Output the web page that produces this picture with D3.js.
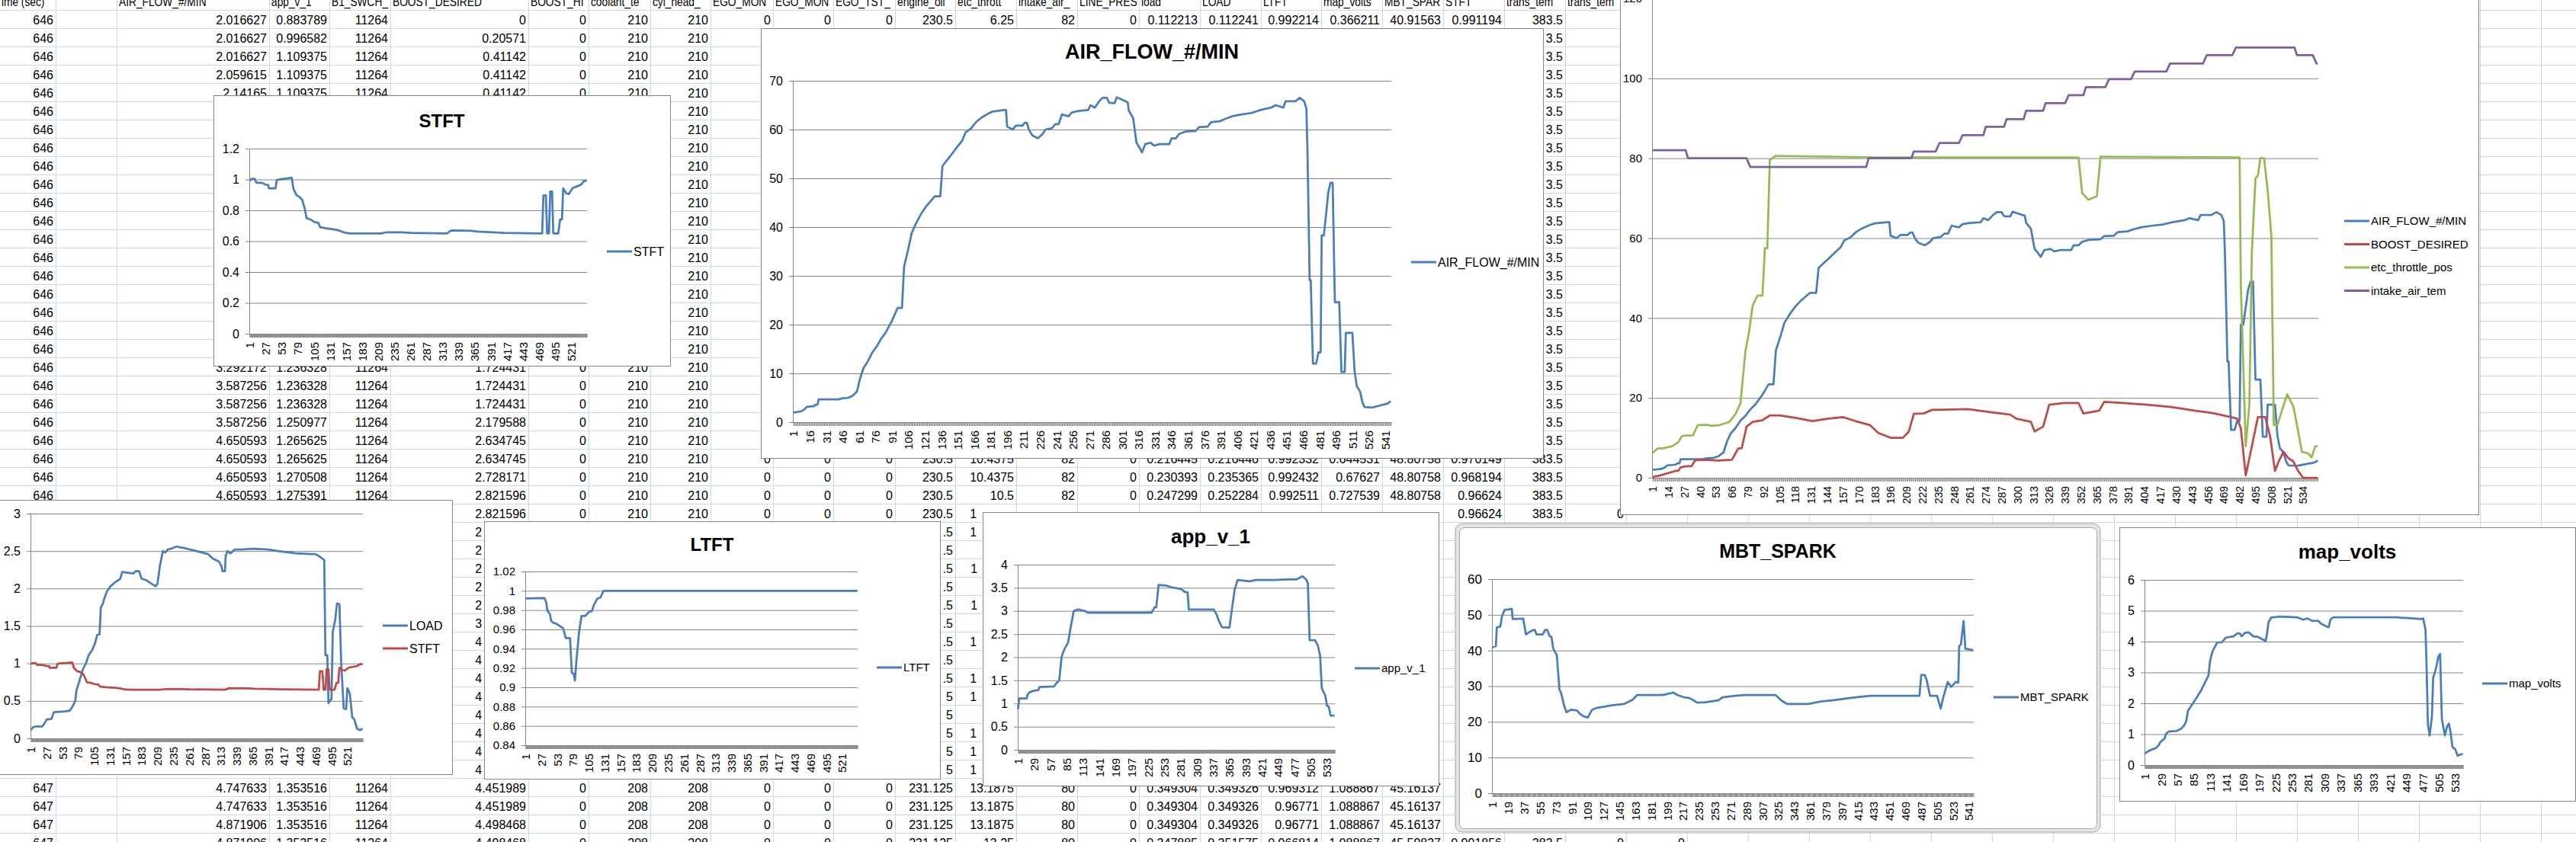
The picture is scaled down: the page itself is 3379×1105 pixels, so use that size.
<!DOCTYPE html>
<html>
<head>
<meta charset="utf-8">
<title>Engine log charts</title>
<script src="https://cdn.jsdelivr.net/npm/d3@7"></script>
<style>
  body { margin: 0; background: #fff; overflow: hidden; }
  svg { display: block; }
</style>
</head>
<body>
<svg id="sheet" width="3379" height="1105"></svg>
<script>
// ---- chart series: [row number, value] ----
const airFlow = [[1,2.02],[3,2.02],[4,2.06],[5,2.14],[8,2.2],[11,2.6],[13,3.1],[20,3.29],[21,3.59],[23,3.59],[24,4.65],[42,4.65],[43,4.75],[44,4.75],[45,4.87],[51,5.0],[55,5.4],[59,6.3],[62,9.1],[65,11.1],[69,12.5],[73,14.3],[77,15.5],[81,17.1],[85,18.3],[91,20.8],[96,23.4],[100,23.4],[102,31.9],[106,35.7],[109,38.8],[113,40.8],[118,42.9],[122,44.2],[130,46.3],[135,46.3],[137,52.5],[141,53.7],[145,54.8],[150,56.3],[155,57.7],[158,59.4],[163,60.2],[168,61.6],[173,62.5],[179,63.3],[183,63.7],[193,64.0],[195,64.0],[196,60.6],[201,60.0],[204,60.8],[210,60.8],[212,61.4],[214,61.4],[216,59.9],[219,58.8],[224,58.2],[228,59.0],[231,60.0],[237,60.3],[240,61.1],[243,61.1],[246,63.1],[252,62.7],[255,63.5],[261,63.8],[270,64.0],[272,65.0],[276,64.5],[280,65.8],[283,66.5],[287,66.5],[289,65.5],[294,65.4],[296,66.6],[300,66.2],[306,65.6],[307,63.9],[311,62.3],[314,57.3],[317,56.2],[319,55.3],[322,57.0],[327,57.3],[330,56.7],[335,57.0],[344,57.0],[346,58.2],[350,58.2],[353,59.1],[359,59.6],[368,59.7],[371,60.5],[379,60.6],[382,61.5],[390,61.7],[395,62.2],[401,62.7],[410,63.1],[419,63.4],[427,64.0],[437,64.5],[441,65.0],[448,64.5],[450,65.8],[459,65.8],[463,66.5],[467,65.8],[469,64.3],[470,56.0],[472,29.1],[473,29.1],[475,12.0],[478,12.0],[480,14.3],[482,14.3],[483,38.3],[485,38.3],[489,47.1],[491,49.1],[493,49.1],[495,24.6],[499,24.6],[501,10.3],[504,10.3],[505,18.3],[511,18.3],[513,10.5],[515,7.4],[518,6.3],[520,4.2],[522,3.1],[529,3.0],[536,3.4],[543,3.8],[546,4.3]];

const boostDesired = [[1,0],[2,0.21],[3,0.41],[5,0.41],[20,1.72],[22,1.72],[23,2.18],[24,2.63],[25,2.63],[26,2.73],[27,2.82],[33,2.92],[35,4.03],[37,4.45],[45,4.45],[46,4.5],[54,4.3],[66,4.5],[71,7.3],[74,7.4],[78,12.8],[83,14.0],[91,14.4],[97,15.6],[105,15.6],[118,15.0],[132,14.2],[145,14.8],[157,15.2],[167,14.2],[179,13.2],[186,11.2],[196,10.0],[206,10.0],[211,11.6],[215,16.0],[223,16.1],[230,17.0],[259,17.2],[279,16.4],[294,15.8],[299,14.8],[311,14.0],[314,11.6],[321,12.8],[326,18.3],[338,18.7],[350,18.7],[354,16.1],[367,16.8],[371,19.0],[387,18.7],[406,18.3],[426,17.7],[445,16.8],[460,16.2],[475,15.2],[480,14.8],[483,12.4],[487,0.6],[490,4.9],[497,15.2],[503,15.2],[507,10.4],[511,1.7],[514,4.1],[518,6.5],[522,4.9],[526,4.1],[530,1.7],[534,0],[546,0]];

const throttlePos = [[1,6.25],[5,7.3],[10,7.4],[17,7.9],[22,8.9],[25,10.44],[27,10.5],[28,10.56],[34,10.6],[38,13.19],[46,13.25],[49,13.0],[56,13.2],[64,14.0],[69,16.0],[73,18.7],[77,31.6],[80,36.5],[83,43.2],[87,45.6],[91,45.6],[93,57.5],[95,57.5],[97,79.6],[102,80.6],[186,80.2],[350,80.2],[353,71.3],[358,69.6],[365,70.5],[368,80.4],[482,80.2],[483,48.4],[487,7.9],[490,18.3],[492,56.3],[495,74.9],[497,75.7],[499,80],[502,80],[505,72.1],[508,60.6],[510,13.2],[513,13.2],[517,17.2],[521,20.9],[526,17.9],[530,11.6],[533,6.5],[538,6.1],[541,5.1],[544,7.9],[546,7.9]];

const intakeAirTemp = [[1,82],[28,82],[30,80],[78,80],[81,77.8],[176,77.8],[178,80],[213,80],[215,81.7],[233,81.7],[236,83.8],[252,83.8],[255,85.8],[272,85.8],[274,87.9],[289,87.9],[291,89.8],[305,89.8],[307,91.9],[321,91.9],[323,93.8],[339,93.8],[342,95.8],[354,95.8],[356,97.8],[372,97.8],[375,99.8],[393,99.8],[396,101.7],[422,101.7],[425,103.7],[452,103.7],[455,105.8],[476,105.8],[479,107.7],[527,107.7],[529,105.8],[542,105.8],[545,103.7],[546,103.7]];

const stft = [[1,0.991],[4,1.004],[9,1.004],[12,0.979],[20,0.979],[25,0.970],[27,0.966],[31,0.965],[32,0.943],[43,0.943],[45,0.996],[52,1.002],[62,1.007],[69,1.012],[72,0.938],[77,0.897],[81,0.889],[86,0.868],[90,0.815],[93,0.749],[99,0.741],[106,0.724],[112,0.719],[115,0.691],[125,0.683],[140,0.675],[147,0.667],[155,0.655],[164,0.65],[213,0.65],[223,0.658],[247,0.658],[262,0.654],[320,0.65],[327,0.67],[359,0.667],[369,0.662],[413,0.654],[474,0.65],[476,0.897],[480,0.897],[482,0.65],[485,0.65],[487,0.922],[490,0.922],[492,0.65],[500,0.65],[503,0.741],[506,0.741],[508,0.943],[513,0.91],[517,0.905],[523,0.943],[530,0.955],[537,0.966],[541,0.988],[546,0.993]];

const load = [[1,0.11],[5,0.15],[10,0.16],[20,0.16],[25,0.22],[27,0.25],[35,0.26],[39,0.35],[57,0.36],[65,0.37],[70,0.43],[74,0.5],[76,0.64],[81,0.77],[86,0.91],[92,1.01],[96,1.11],[102,1.18],[107,1.28],[110,1.38],[114,1.39],[116,1.75],[119,1.79],[122,1.87],[126,1.96],[132,2.03],[139,2.08],[148,2.13],[151,2.22],[169,2.2],[173,2.23],[179,2.23],[183,2.13],[191,2.11],[198,2.07],[206,2.03],[209,2.06],[213,2.3],[218,2.5],[222,2.48],[226,2.52],[231,2.53],[240,2.56],[258,2.53],[273,2.5],[292,2.46],[300,2.4],[310,2.36],[314,2.3],[316,2.23],[320,2.23],[321,2.43],[324,2.5],[329,2.47],[336,2.52],[347,2.52],[367,2.53],[391,2.52],[406,2.5],[436,2.47],[461,2.46],[468,2.46],[475,2.43],[483,2.38],[485,1.11],[488,1.11],[490,0.47],[495,0.53],[497,1.42],[501,1.58],[504,1.8],[508,1.79],[511,0.98],[515,0.4],[519,0.39],[521,0.67],[525,0.6],[529,0.28],[532,0.26],[537,0.13],[542,0.11],[546,0.13]];

const ltft = [[1,0.992],[32,0.9925],[35,0.988],[37,0.979],[41,0.976],[43,0.969],[46,0.967],[51,0.966],[56,0.964],[63,0.961],[67,0.951],[74,0.951],[77,0.915],[80,0.914],[82,0.907],[85,0.931],[89,0.958],[93,0.974],[99,0.974],[105,0.978],[110,0.979],[113,0.985],[119,0.992],[124,0.993],[129,1.0],[546,1.0]];

const appV1 = [[1,0.88],[2,1.0],[3,1.11],[16,1.11],[17,1.18],[20,1.236],[23,1.25],[27,1.275],[36,1.29],[38,1.354],[63,1.37],[67,1.44],[72,1.5],[76,2.01],[81,2.18],[87,2.31],[92,2.67],[97,3.0],[105,3.03],[116,3.0],[121,2.96],[231,2.96],[236,3.08],[239,3.08],[243,3.56],[255,3.55],[266,3.51],[282,3.47],[288,3.41],[293,3.4],[295,3.03],[314,3.03],[338,3.03],[343,2.92],[346,2.81],[352,2.65],[365,2.64],[370,3.11],[374,3.46],[379,3.67],[400,3.64],[410,3.67],[443,3.67],[464,3.68],[480,3.68],[491,3.75],[497,3.68],[500,3.6],[503,2.37],[512,2.37],[517,2.26],[521,2.04],[524,1.33],[530,1.17],[533,0.95],[536,0.93],[539,0.74],[546,0.74]];

const mbtSpark = [[1,40.9],[5,41.2],[6,46.5],[10,46.7],[12,49.7],[15,51.4],[19,51.5],[23,51.7],[24,48.8],[36,48.9],[39,44.5],[43,45.2],[46,45.6],[49,45.8],[51,44.5],[58,44.5],[61,45.8],[63,45.8],[66,44.0],[68,43.8],[70,40.5],[74,38.7],[77,29.1],[79,28.0],[82,24.8],[85,22.7],[90,23.4],[97,23.2],[100,22.3],[104,21.6],[109,21.2],[114,23.4],[119,23.9],[129,24.3],[138,24.7],[150,25.0],[160,26.2],[165,27.5],[194,27.5],[206,28.2],[211,27.5],[218,26.9],[225,26.6],[233,25.4],[242,25.5],[257,26.0],[262,26.9],[276,27.3],[286,27.5],[322,27.5],[329,25.9],[335,25.0],[359,25.0],[373,25.7],[388,26.1],[407,26.7],[429,27.3],[485,27.3],[487,33.1],[491,33.1],[493,31.9],[497,27.3],[505,27.3],[509,23.7],[512,26.9],[517,31.2],[521,29.8],[526,31.2],[529,31.0],[530,41.2],[532,41.7],[535,48.3],[537,40.5],[546,40.1]];

const mapVolts = [[1,0.37],[6,0.44],[14,0.51],[20,0.55],[25,0.645],[26,0.676],[27,0.728],[29,0.77],[35,0.86],[37,1.0],[40,1.06],[43,1.089],[55,1.1],[63,1.17],[68,1.27],[72,1.42],[75,1.76],[81,1.93],[89,2.16],[97,2.4],[104,2.67],[110,2.9],[113,3.39],[117,3.68],[125,3.97],[133,3.98],[140,4.13],[153,4.17],[159,4.26],[164,4.26],[167,4.17],[172,4.28],[179,4.3],[187,4.17],[195,4.15],[208,4.02],[210,4.21],[213,4.63],[218,4.79],[223,4.79],[231,4.81],[262,4.79],[272,4.71],[280,4.75],[288,4.67],[298,4.67],[303,4.58],[316,4.46],[319,4.71],[324,4.79],[345,4.79],[396,4.79],[435,4.79],[440,4.77],[448,4.77],[474,4.73],[478,4.75],[482,4.38],[484,3.06],[486,1.33],[489,0.96],[493,1.58],[495,2.81],[500,3.14],[504,3.51],[507,3.6],[510,1.5],[515,0.96],[519,1.25],[522,1.35],[525,1.05],[528,0.59],[533,0.51],[537,0.3],[543,0.35],[546,0.35]];

// ---- axis tick values and labels ----
const rowCount = 546;
const labels13 = [1,14,27,40,53,66,79,92,105,118,131,144,157,170,183,196,209,222,235,248,261,274,287,300,313,326,339,352,365,378,391,404,417,430,443,456,469,482,495,508,521,534];
const labels15 = [1,16,31,46,61,76,91,106,121,136,151,166,181,196,211,226,241,256,271,286,301,316,331,346,361,376,391,406,421,436,451,466,481,496,511,526,541];
const labels18 = [1,19,37,55,73,91,109,127,145,163,181,199,217,235,253,271,289,307,325,343,361,379,397,415,433,451,469,487,505,523,541];
const labels26 = [1,27,53,79,105,131,157,183,209,235,261,287,313,339,365,391,417,443,469,495,521];
const labels28 = [1,29,57,85,113,141,169,197,225,253,281,309,337,365,393,421,449,477,505,533];

const stftTicks = [0,0.2,0.4,0.6,0.8,1,1.2];
const airTicks = [0,10,20,30,40,50,60,70];
const bigTicks = [0,20,40,60,80,100,120];
const loadTicks = [0,0.5,1,1.5,2,2.5,3];
const ltftTicks = [0.84,0.86,0.88,0.9,0.92,0.94,0.96,0.98,1,1.02];
const appTicks = [0,0.5,1,1.5,2,2.5,3,3.5,4];
const mbtTicks = [0,10,20,30,40,50,60];
const mapTicks = [0,1,2,3,4,5,6];

// ---- spreadsheet behind the charts ----
const colLetters = ["A","B","C","D","E","F","G","H","I","J","K","L","M","N","O","P","Q","R","S","T","U","V","W","X","Y"];
const colHeaders = ["Time (sec)","","AIR_FLOW_#/MIN","app_v_1","B1_SWCH_","BOOST_DESIRED","BOOST_HI","coolant_te","cyl_head_","EGO_MON","EGO_MON","EGO_TST_","engine_oil","etc_thrott","intake_air_","LINE_PRES","load","LOAD","LTFT","map_volts","MBT_SPAR","STFT","trans_tem","trans_tem"];
const colEdges = [-9,73,153,353,432,512,693,772,853,932,1014,1093,1174,1253,1333,1413,1494,1574,1654,1733,1813,1893,1973,2053,2133,2213,2293,2373,2453,2533,2613,2693,2773,2853,2933,3013,3093,3173,3253,3333,3413];

const midRow = {A:"646",I:"210",W:"383.5",X:"0"};
const sheetRows = [
  {A:"646",C:"2.016627",D:"0.883789",E:"11264",F:"0",G:"0",H:"210",I:"210",J:"0",K:"0",L:"0",M:"230.5",N:"6.25",O:"82",P:"0",Q:"0.112213",R:"0.112241",S:"0.992214",T:"0.366211",U:"40.91563",V:"0.991194",W:"383.5",X:"0"},
  {A:"646",C:"2.016627",D:"0.996582",E:"11264",F:"0.20571",G:"0",H:"210",I:"210",W:"383.5",X:"0"},
  {A:"646",C:"2.016627",D:"1.109375",E:"11264",F:"0.41142",G:"0",H:"210",I:"210",W:"383.5",X:"0"},
  {A:"646",C:"2.059615",D:"1.109375",E:"11264",F:"0.41142",G:"0",H:"210",I:"210",W:"383.5",X:"0"},
  {A:"646",C:"2.14165",D:"1.109375",E:"11264",F:"0.41142",G:"0",H:"210",I:"210",W:"383.5",X:"0"},
  midRow, midRow, midRow, midRow, midRow, midRow, midRow,
  midRow, midRow, midRow, midRow, midRow, midRow, midRow,
  {A:"646",C:"3.292172",D:"1.236328",E:"11264",F:"1.724431",G:"0",H:"210",I:"210",W:"383.5",X:"0"},
  {A:"646",C:"3.587256",D:"1.236328",E:"11264",F:"1.724431",G:"0",H:"210",I:"210",W:"383.5",X:"0"},
  {A:"646",C:"3.587256",D:"1.236328",E:"11264",F:"1.724431",G:"0",H:"210",I:"210",W:"383.5",X:"0"},
  {A:"646",C:"3.587256",D:"1.250977",E:"11264",F:"2.179588",G:"0",H:"210",I:"210",W:"383.5",X:"0"},
  {A:"646",C:"4.650593",D:"1.265625",E:"11264",F:"2.634745",G:"0",H:"210",I:"210",W:"383.5",X:"0"},
  {A:"646",C:"4.650593",D:"1.265625",E:"11264",F:"2.634745",G:"0",H:"210",I:"210",J:"0",K:"0",L:"0",M:"230.5",N:"10.4375",O:"82",P:"0",Q:"0.216445",R:"0.216446",S:"0.992332",T:"0.644531",U:"48.80758",V:"0.970149",W:"383.5",X:"0"},
  {A:"646",C:"4.650593",D:"1.270508",E:"11264",F:"2.728171",G:"0",H:"210",I:"210",J:"0",K:"0",L:"0",M:"230.5",N:"10.4375",O:"82",P:"0",Q:"0.230393",R:"0.235365",S:"0.992432",T:"0.67627",U:"48.80758",V:"0.968194",W:"383.5",X:"0"},
  {A:"646",C:"4.650593",D:"1.275391",E:"11264",F:"2.821596",G:"0",H:"210",I:"210",J:"0",K:"0",L:"0",M:"230.5",N:"10.5",O:"82",P:"0",Q:"0.247299",R:"0.252284",S:"0.992511",T:"0.727539",U:"48.80758",V:"0.96624",W:"383.5",X:"0"},
  {A:"646",C:"4.650593",D:"1.280273",E:"11264",F:"2.821596",G:"0",H:"210",I:"210",J:"0",K:"0",L:"0",M:"230.5",N:"10.5625",O:"80",P:"0",Q:"0.252258",R:"0.252284",S:"0.992511",T:"0.74707",U:"48.80758",V:"0.96624",W:"383.5",X:"0"},
  {F:"2.915022",M:"230.5",N:"10.5625",V:"0.965396"},
  {F:"2.915022",M:"230.5",N:"10.5",V:"0.965396"},
  {F:"2.915022",M:"230.5",N:"11.0625",V:"0.965396"},
  {F:"2.915022",M:"230.5",N:"11.5",V:"0.965396"},
  {F:"2.915022",M:"230.5",N:"11.9375",V:"0.96624"},
  {F:"3.474523",M:"230.5",N:"12",V:"0.96624"},
  {F:"4.031498",M:"230.5",N:"12.0625",V:"0.96624"},
  {F:"4.031498",M:"230.5",N:"12.125",V:"0.967188"},
  {F:"4.451989",M:"230.5",N:"12.1875",V:"0.967188"},
  {F:"4.451989",M:"231.125",N:"13.0625",V:"0.967188"},
  {F:"4.451989",M:"231.125",N:"13.125",V:"0.967188"},
  {F:"4.451989",M:"231.125",N:"13.1875",V:"0.968194"},
  {F:"4.451989",M:"231.125",N:"13.1875",V:"0.968194"},
  {F:"4.451989",M:"231.125",N:"13.1875",V:"0.968194"},
  {A:"647",C:"4.747633",D:"1.353516",E:"11264",F:"4.451989",G:"0",H:"208",I:"208",J:"0",K:"0",L:"0",M:"231.125",N:"13.1875",O:"80",P:"0",Q:"0.349304",R:"0.349326",S:"0.969312",T:"1.088867",U:"45.16137",V:"0.968194",W:"383.5",X:"0"},
  {A:"647",C:"4.747633",D:"1.353516",E:"11264",F:"4.451989",G:"0",H:"208",I:"208",J:"0",K:"0",L:"0",M:"231.125",N:"13.1875",O:"80",P:"0",Q:"0.349304",R:"0.349326",S:"0.96771",T:"1.088867",U:"45.16137",V:"0.968194",W:"383.5",X:"0"},
  {A:"647",C:"4.871906",D:"1.353516",E:"11264",F:"4.498468",G:"0",H:"208",I:"208",J:"0",K:"0",L:"0",M:"231.125",N:"13.1875",O:"80",P:"0",Q:"0.349304",R:"0.349326",S:"0.96771",T:"1.088867",U:"45.16137",V:"0.991856",W:"383.5",X:"0"},
  {A:"647",C:"4.871906",D:"1.353516",E:"11264",F:"4.498468",G:"0",H:"208",I:"208",J:"0",K:"0",L:"0",M:"231.125",N:"13.25",O:"80",P:"0",Q:"0.347885",R:"0.351575",S:"0.966814",T:"1.088867",U:"45.59837",V:"0.991856",W:"383.5",X:"0",Y:"0"}
];

const BLUE = "#4a7ebb", RED = "#be4b48", GREEN = "#98b954", PURPLE = "#7d60a0";
const AXIS = "#868686";
const FONT = "'Liberation Sans', Arial, sans-serif";
const W = 3379, H = 1105, ROW0 = 13, ROWH = 24;
const HEAD_SQUEEZE = 0.86;   // header captions are set a little condensed

// chart layouts (pixel boxes)
const charts = [
  { box: [280,125,879,480], plot: [327,195,770,438], yDomain: [0,1.2], yTicks: stftTicks, xLabels: labels26,
    tickFont: 16, xFont: 15, title: "STFT", titleSize: 24, titleY: 167, legend: [796,330], legendFont: 16,
    series: [{ name: "STFT", data: stft, color: BLUE }] },
  { box: [998,37,2024,601], plot: [1040,106,1825,554], yDomain: [0,70], yTicks: airTicks, xLabels: labels15,
    tickFont: 16, xFont: 15, title: "AIR_FLOW_#/MIN", titleSize: 27, titleY: 77, legend: [1851,344], legendFont: 16,
    series: [{ name: "AIR_FLOW_#/MIN", data: airFlow, color: BLUE }] },
  { box: [2125,-10,3251,675], plot: [2167,-2,3041,627], yDomain: [0,120], yTicks: bigTicks, xLabels: labels13,
    tickFont: 15, xFont: 14, legend: [3075,290], legendFont: 15, legendGap: 30.5,
    series: [{ name: "AIR_FLOW_#/MIN", data: airFlow, color: BLUE },
             { name: "BOOST_DESIRED", data: boostDesired, color: RED },
             { name: "etc_throttle_pos", data: throttlePos, color: GREEN },
             { name: "intake_air_tem", data: intakeAirTemp, color: PURPLE }] },
  { box: [-5,656,593,1016], plot: [40,674,476,969], yDomain: [0,3], yTicks: loadTicks, xLabels: labels26,
    tickFont: 16, xFont: 15, legend: [502,821], legendFont: 16, legendGap: 30,
    series: [{ name: "LOAD", data: load, color: BLUE }, { name: "STFT", data: stft, color: RED }] },
  { box: [635,684,1233,1022], plot: [689,750,1125,978], yDomain: [0.84,1.02], yTicks: ltftTicks, xLabels: labels26,
    tickFont: 15, xFont: 15, title: "LTFT", titleSize: 24, titleY: 723, legend: [1150,876], legendFont: 15,
    series: [{ name: "LTFT", data: ltft, color: BLUE }] },
  { box: [1289,672,1887,1031], plot: [1335,741,1751,984], yDomain: [0,4], yTicks: appTicks, xLabels: labels28,
    tickFont: 16, xFont: 15, title: "app_v_1", titleSize: 26, titleY: 713, legend: [1777,877], legendFont: 15,
    series: [{ name: "app_v_1", data: appV1, color: BLUE }] },
  { box: [1914,692,2750,1087], selected: true, plot: [1957,760,2589,1041], yDomain: [0,60], yTicks: mbtTicks, xLabels: labels18,
    tickFont: 17, xFont: 15, title: "MBT_SPARK", titleSize: 25, titleY: 732, legend: [2615,915], legendFont: 15,
    series: [{ name: "MBT_SPARK", data: mbtSpark, color: BLUE }] },
  { box: [2780,692,3378,1051], plot: [2813,761,3231,1004], yDomain: [0,6], yTicks: mapTicks, xLabels: labels28,
    tickFont: 16, xFont: 15, title: "map_volts", titleSize: 26, titleY: 733, legend: [3256,897], legendFont: 15,
    series: [{ name: "map_volts", data: mapVolts, color: BLUE }] }
];

const svg = d3.select("#sheet");
svg.append("rect").attr("width", W).attr("height", H).attr("fill", "#fff");

drawSheet();
charts.forEach(drawChart);

// part of [x0, x1] that no chart box covers on the text line [y0, y1]
function visibleSpan(x0, x1, y0, y1) {
  const cuts = charts.map(c => {
    const p = c.selected ? 5 : 0;
    return [c.box[0] - p, c.box[1] - p, c.box[2] + p, c.box[3] + p];
  }).filter(b => {
    const cover = Math.min(y1, b[3]) - Math.max(y0, b[1]);
    return cover / (y1 - y0) > 0.7;
  });
  let spans = [[x0, x1]];
  cuts.forEach(b => {
    spans = spans.flatMap(([s, e]) => {
      const out = [];
      if (b[0] > s) out.push([s, Math.min(e, b[0])]);
      if (b[2] < e) out.push([Math.max(s, b[2]), e]);
      return out.filter(([p, q]) => q > p);
    });
  });
  spans.sort((p, q) => (q[1] - q[0]) - (p[1] - p[0]));
  return spans[0] || null;
}

// keep only the characters of a text node that fall inside [lo, hi] (text's own coordinates)
function trimText(t, s, lo, hi) {
  const node = t.node();
  const keep = d3.range(s.length).filter(i =>
    node.getStartPositionOfChar(i).x >= lo - 0.5 && node.getEndPositionOfChar(i).x <= hi + 0.5);
  if (!keep.length) { t.remove(); return; }
  const a = keep[0], b = keep[keep.length - 1];
  const sx = node.getStartPositionOfChar(a).x;
  t.attr("text-anchor", "start").attr("x", sx).text(s.slice(a, b + 1));
}

function drawSheet() {
  const g = svg.append("g").attr("font-family", FONT).attr("font-size", 16);

  // cell grid
  g.append("g").selectAll("line").data(colEdges).join("line")
    .attr("x1", d => d + 0.5).attr("x2", d => d + 0.5)
    .attr("y1", 0).attr("y2", H)
    .attr("stroke", "#d0d7e5");
  g.append("g").selectAll("line").data(d3.range(0, 46)).join("line")
    .attr("x1", 0).attr("x2", W)
    .attr("y1", i => ROW0 + i * ROWH + 0.5).attr("y2", i => ROW0 + i * ROWH + 0.5)
    .attr("stroke", "#d0d7e5");

  // header row: condensed captions cut at the column's right edge
  colHeaders.forEach((h, c) => {
    if (!h) return;
    const hg = g.append("g")
      .attr("transform", `translate(${colEdges[c]},0) scale(${HEAD_SQUEEZE},1)`);
    const t = hg.append("text")
      .attr("x", 3 / HEAD_SQUEEZE).attr("y", ROW0 - 5)
      .text(h);
    trimText(t, h, 0, (colEdges[c + 1] - colEdges[c] - 1) / HEAD_SQUEEZE);
  });

  // values, right aligned; only the glyphs left showing beside the charts are kept
  sheetRows.forEach((row, r) => {
    Object.keys(row).forEach(key => {
      const c = colLetters.indexOf(key);
      const s = row[key];
      const xr = colEdges[c + 1] - 3;
      const yb = ROW0 + r * ROWH + 19;
      const t = g.append("text")
        .attr("x", xr).attr("y", yb)
        .attr("text-anchor", "end")
        .text(s);
      const xl = xr - t.node().getComputedTextLength();
      const span = visibleSpan(xl, xr, yb - 12, yb + 2);
      if (!span) { t.remove(); return; }
      if (span[0] > xl + 0.5 || span[1] < xr - 0.5) trimText(t, s, span[0], span[1]);
    });
  });
}

function drawChart(cfg) {
  const g = svg.append("g").attr("font-family", FONT);
  const [bx0, by0, bx1, by1] = cfg.box;
  const [px0, py0, px1, py1] = cfg.plot;

  if (cfg.selected) {
    g.append("rect")
      .attr("x", bx0 - 5).attr("y", by0 - 5)
      .attr("width", bx1 - bx0 + 10).attr("height", by1 - by0 + 10)
      .attr("rx", 9).attr("fill", "#e4e4e4").attr("stroke", "#a8a8a8");
    g.append("rect")
      .attr("x", bx0 + 0.5).attr("y", by0 + 0.5)
      .attr("width", bx1 - bx0).attr("height", by1 - by0)
      .attr("rx", 6).attr("fill", "#fff").attr("stroke", "#a8a8a8");
  } else {
    g.append("rect")
      .attr("x", bx0 + 0.5).attr("y", by0 + 0.5)
      .attr("width", bx1 - bx0).attr("height", by1 - by0)
      .attr("fill", "#fff").attr("stroke", AXIS);
  }

  const x = d3.scaleLinear().domain([0.5, rowCount + 0.5]).range([px0, px1]);
  const y = d3.scaleLinear().domain(cfg.yDomain).range([py1, py0]);
  const fmt = d => String(+d.toFixed(2));

  // horizontal gridlines
  g.append("g")
    .attr("transform", `translate(${px0},0)`)
    .call(d3.axisLeft(y).tickValues(cfg.yTicks).tickSize(-(px1 - px0)).tickFormat(""))
    .call(s => s.select(".domain").remove())
    .call(s => s.selectAll("text").remove())
    .call(s => s.selectAll("line").attr("stroke", AXIS));

  // value axis
  const yAxis = g.append("g")
    .attr("transform", `translate(${px0},0)`)
    .call(d3.axisLeft(y).tickValues(cfg.yTicks).tickSize(5).tickSizeOuter(0).tickPadding(8).tickFormat(fmt));
  yAxis.select(".domain").attr("stroke", AXIS);
  yAxis.selectAll("line").attr("stroke", AXIS);
  yAxis.selectAll("text")
    .style("font-family", FONT).style("font-size", cfg.tickFont + "px").attr("fill", "#000");

  // category axis: one tick per row
  const catAxis = g.append("g")
    .attr("transform", `translate(0,${py1})`)
    .call(d3.axisBottom(x).tickValues(d3.range(1, rowCount + 1)).tickSize(5).tickSizeOuter(0).tickFormat(""));
  catAxis.selectAll("text").remove();
  catAxis.select(".domain").attr("stroke", AXIS);
  catAxis.selectAll("line").attr("stroke", AXIS);

  // category labels, rotated
  const labAxis = g.append("g")
    .attr("transform", `translate(0,${py1})`)
    .call(d3.axisBottom(x).tickValues(cfg.xLabels).tickSize(0).tickFormat(d3.format("d")));
  labAxis.select(".domain").remove();
  labAxis.selectAll("text")
    .attr("transform", "rotate(-90)")
    .attr("text-anchor", "end")
    .attr("x", -11).attr("y", 0).attr("dy", "0.35em")
    .style("font-family", FONT).style("font-size", cfg.xFont + "px").attr("fill", "#000");

  // series
  const line = d3.line().x(d => x(d[0])).y(d => y(d[1]));
  cfg.series.forEach(s => {
    g.append("path").datum(s.data)
      .attr("d", line)
      .attr("fill", "none")
      .attr("stroke", s.color)
      .attr("stroke-width", 2.75)
      .attr("stroke-linejoin", "round");
  });

  // legend
  const [lx, ly] = cfg.legend;
  const gap = cfg.legendGap || 30;
  const leg = g.append("g").selectAll("g").data(cfg.series).join("g")
    .attr("transform", (d, i) => `translate(${lx},${ly + i * gap})`);
  leg.append("line").attr("x1", 0).attr("x2", 33)
    .attr("stroke", d => d.color).attr("stroke-width", 3);
  leg.append("text").attr("x", 35).attr("dy", "0.35em")
    .attr("font-size", cfg.legendFont)
    .text(d => d.name);

  // title
  if (cfg.title) {
    g.append("text")
      .attr("x", (bx0 + bx1) / 2).attr("y", cfg.titleY)
      .attr("text-anchor", "middle")
      .attr("font-weight", "bold")
      .attr("font-size", cfg.titleSize)
      .text(cfg.title);
  }
}
</script>
</body>
</html>
